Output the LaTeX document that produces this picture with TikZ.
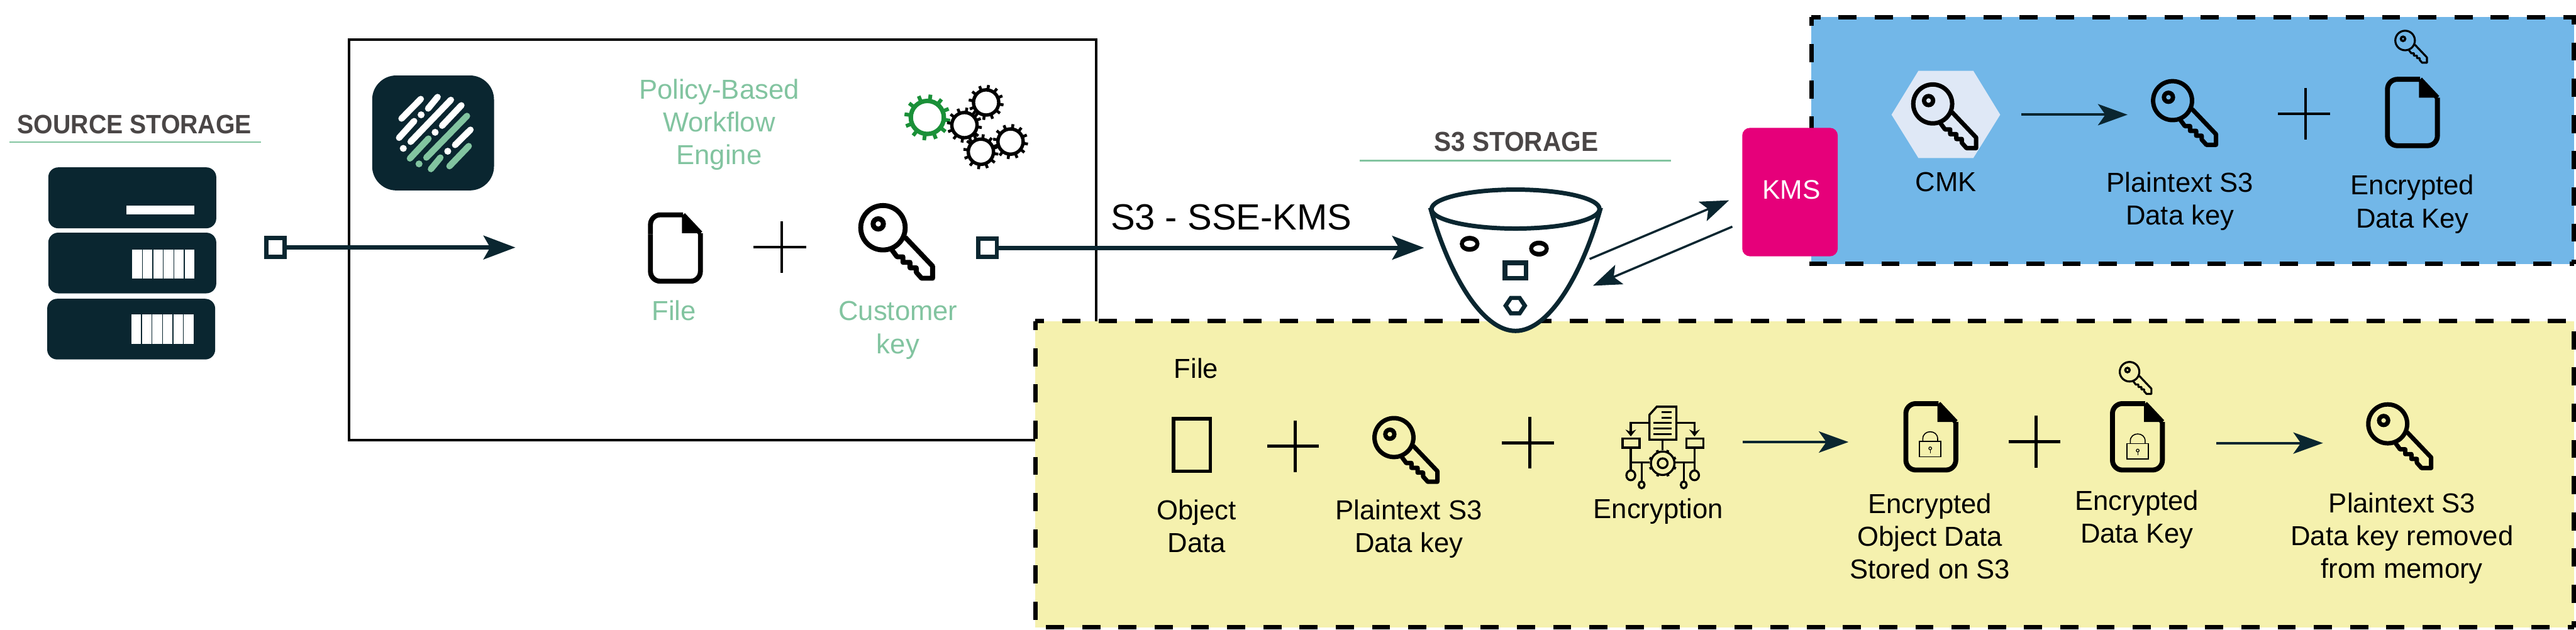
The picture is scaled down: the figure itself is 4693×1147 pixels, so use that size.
\documentclass[tikz,border=0pt]{standalone}
\usepackage{fontspec}
\setmainfont{Liberation Sans}
\newfontfamily\headfont[FakeStretch=0.93]{Liberation Sans}
\usetikzlibrary{arrows.meta}
\definecolor{ink}{HTML}{0A2630}
\definecolor{mint}{HTML}{82C4A0}
\definecolor{headgrey}{HTML}{4A4646}
\definecolor{bluepanel}{HTML}{72B7E8}
\definecolor{yellowpanel}{HTML}{F5F1AE}
\definecolor{kmspink}{HTML}{E6007A}
\definecolor{hexpale}{HTML}{DFE8F6}
\definecolor{geargreen}{HTML}{1A9038}
\tikzset{
  x=.25pt,y=-.25pt,
  lbl/.style={inner sep=0,outer sep=0,align=center,anchor=base,font=\fontsize{12.5}{15}\selectfont},
  greenlbl/.style={lbl,text=mint},
  head/.style={inner sep=0,anchor=base,text=headgrey,font=\headfont\bfseries\fontsize{12.5}{15}\selectfont},
  rule/.style={mint,line width=.8pt},
  port/.style={draw=ink,fill=white,line width=2pt,minimum size=8.5pt,inner sep=0,outer sep=0},
  flow/.style={draw=ink,line width=2pt,-{Stealth[length=14.5pt,width=10.75pt,inset=3pt,fill=ink]}},
  flowthin/.style={draw=ink,line width=1.1pt,-{Stealth[length=13.5pt,width=9.7pt,inset=3.4pt,fill=ink]}},
  flowdiag/.style={draw=ink,line width=1pt,-{Stealth[length=13pt,width=9.5pt,inset=2.75pt,fill=ink]}},
  dashbox/.style={draw=black,line width=2pt,dash pattern=on 8.25pt off 8.25pt,dash phase=4.125pt},
  plusmark/.style={draw=black,line width=1.25pt},
  server/.style={fill=ink,rounded corners=4.5pt},
  pics/keyicon/.style={code={
    \draw[line width=#1,line join=round] (44.6,45) circle[radius=40.5];
    \draw[line width=#1,line join=round]
      (84.8,62.2) -- (135,115) -- (135,137) -- (115,137) -- (105.2,126) -- (105.2,118)
      -- (93.8,118) -- (93.8,108) -- (81,108) -- (81,98) -- (70.2,98) -- (60.6,85);
    \fill[even odd rule] (36,38) circle[radius=14] (36,38) circle[radius=5];
  }},
  pics/fileicon/.style={code={
    \draw[line width=2.25pt,line join=round,rounded corners=4.5pt]
      (4.5,40) -- (4.5,4.5) -- (64,4.5);
    \draw[line width=2.25pt,line join=round]
      (64,4.5) -- (95.5,38);
    \draw[line width=2.25pt,line join=round,rounded corners=4.5pt]
      (95.5,38) -- (95.5,125.5) -- (4.5,125.5) -- (4.5,40);
    \fill[line join=round] (62,4.5) -- (97,38) -- (62,38) -- cycle;
  }},
  pics/lockicon/.style={code={
    \draw[line width=.45pt] (0,0) rectangle (39,28);
    \draw[line width=.45pt] (6,0) -- (6,-5) .. controls (6,-22) and (33,-22) .. (33,-5) -- (33,0);
    \draw[line width=.35pt] (19.5,12.5) circle[radius=2.6];
    \draw[line width=.35pt] (19.5,15) -- (19.5,21.5);
  }},
  pics/gearicon/.style={code={
    \draw[line width=#1*1.55pt] (0,0) circle[radius=23];
    \foreach \a in {0,30,...,330}{
      \draw[line width=#1*1.3pt] (\a+8:24) -- (\a+8:32);
    }
  }},
}
\begin{document}
\begin{tikzpicture}
\useasboundingbox (0,0) rectangle (4693,1147);
\fill[white] (0,0) rectangle (4693,1147);

% workflow frame
\draw[black,line width=1.15pt] (636,72) rectangle (1997,802);

% panels
\coordinate (bnw) at (3300,31); \coordinate (bne) at (4689,31);
\coordinate (bsw) at (3300,481); \coordinate (bse) at (4689,481);
\fill[bluepanel] (bnw) rectangle (bse);
\draw[dashbox] (bnw) -- (bne) -- (bse);
\draw[dashbox] (bnw) -- (bsw) -- (bse);
\coordinate (ynw) at (1886,585); \coordinate (yne) at (4689,585);
\coordinate (ysw) at (1886,1143); \coordinate (yse) at (4689,1143);
\fill[yellowpanel] (ynw) rectangle (yse);
\draw[dashbox] (ynw) -- (yne) -- (yse);
\draw[dashbox] (ynw) -- (ysw) -- (yse);

% source storage
\node[head,font=\headfont\bfseries\fontsize{12.1}{15}\selectfont] (srchead) at (245,243) {SOURCE STORAGE};
\draw[rule] (17,259) -- (476,259);
\fill[server] (88,305) rectangle (394,416);
\fill[server] (88,424) rectangle (394,534.5);
\fill[server] (86,544.5) rectangle (392,655);
\fill[white] (230,374.5) rectangle (354,391);
\foreach \i in {0,...,5}{
  \fill[white] (241+\i*19.1,454.5) rectangle (258.5+\i*19.1,508);
  \fill[white] (239.5+\i*19.1,573) rectangle (257+\i*19.1,627);
}

% logo
\fill[ink,rounded corners=11pt] (678,137.5) rectangle (900,347);
\begin{scope}[x=.15944pt,y=-.13075pt,line width=2.9pt,line cap=round]
  \draw[white] (1202,345)--(1147,413) (1250,338)--(1223,378) (1288,348)--(1173,494)
    (1318,367)--(1263,438) (1183,422)--(1140,480) (1344,452)--(1300,505);
  \fill[white] (1203,400) ellipse[x radius=10,y radius=12]
    (1243,461) ellipse[x radius=10,y radius=12]
    (1152,517) ellipse[x radius=10,y radius=12]
    (1279,527) ellipse[x radius=10,y radius=12];
  \draw[mint] (1224,483)--(1171,552) (1334,404)--(1218,549)
    (1258,549)--(1231,589) (1339,509)--(1284,579);
  \fill[mint] (1197,571) ellipse[x radius=10,y radius=12];
\end{scope}

% workflow engine
\node[greenlbl] (engine) at (1310,300) {Policy-Based\\Workflow\\Engine};
\pic[scale=1.31,geargreen] at (1689.4,214) {gearicon=1.31};
\pic at (1796.5,186.7) {gearicon=1};
\pic at (1757,228) {gearicon=1};
\pic at (1787,276.5) {gearicon=1};
\pic at (1841,258) {gearicon=1};
\pic at (1180.5,387) {fileicon};
\draw[plusmark] (1373,450.5) -- (1469,450.5) (1424,403) -- (1424,497.5);
\pic at (1564,370) {keyicon=2.25pt};
\node[greenlbl] (filelbl) at (1228,584) {File};
\node[greenlbl] (custlbl) at (1636,644) {Customer\\key};

% connectors left
\node[port] (srcport) at (502,451) {};
\coordinate (srcend) at (939,451);
\draw[flow] (srcport) -- (srcend);
\node[port] (custport) at (1799,451.5) {};
\coordinate (bucketin) at (2594.5,451.5);
\draw[flow] (custport) -- (bucketin);
\node[lbl,font=\fontsize{16.6}{20}\selectfont] (ssekms) at (2243,419) {S3 - SSE-KMS};

% S3 storage
\node[head] (s3head) at (2762,276) {S3 STORAGE};
\draw[rule] (2477,293) -- (3044,293);
\draw[ink,fill=white,line width=2pt]
  (2607,383) .. controls (2640,500) and (2700,603) .. (2761,603)
  .. controls (2822,603) and (2882,500) .. (2915,383) -- cycle;
\draw[ink,fill=white,line width=2pt] (2761,381) ellipse[x radius=153,y radius=35.5];
\fill[black,even odd rule] (2677.4,444.3) ellipse[x radius=18,y radius=14.5] (2677.4,444.3) ellipse[x radius=10.5,y radius=6];
\fill[black,even odd rule] (2803.7,453) ellipse[x radius=18,y radius=14.5] (2803.7,453) ellipse[x radius=10.5,y radius=6];
\draw[ink,line width=2.1pt] (2741.6,479) rectangle (2779.8,506.7);
\draw[ink,line width=1.9pt,line join=miter] (2743,557) -- (2752.5,543) -- (2768.5,543) -- (2778,557) -- (2768.5,571) -- (2752.5,571) -- cycle;

% KMS
\node[fill=kmspink,rounded corners=3.5pt,minimum width=43.5pt,minimum height=58.5pt,inner sep=0] (kms) at (3261,350) {};
\node[lbl,text=white,font=\fontsize{12.2}{15}\selectfont] (kmslbl) at (3263.5,363) {KMS};
\coordinate (toKmsA) at (2896,472); \coordinate (toKmsB) at (3150,365);
\draw[flowdiag] (toKmsA) -- (toKmsB);
\coordinate (fromKmsA) at (3156,413); \coordinate (fromKmsB) at (2902,520.7);
\draw[flowdiag] (fromKmsA) -- (fromKmsB);

% blue panel
\fill[hexpale] (3446,209) -- (3495,129) -- (3595,129) -- (3644,209) -- (3595,288) -- (3495,288) -- cycle;
\pic[scale=.875] at (3482,150) {keyicon=2pt};
\coordinate (cmkA) at (3682.5,209); \coordinate (cmkB) at (3876,209);
\draw[flowthin] (cmkA) -- (cmkB);
\pic[scale=.875] at (3919,144) {keyicon=2pt};
\draw[plusmark] (4150,207.7) -- (4245,207.7) (4200.6,160) -- (4200.6,254);
\pic at (4345,140) {fileicon};
\pic[scale=.44] at (4362,54) {keyicon=.9pt};
\node[lbl] (cmklbl) at (3545.4,349) {CMK};
\node[lbl] (plainlbl) at (3971.5,410) {Plaintext S3\\Data key};
\node[lbl] (enclbl) at (4395,415) {Encrypted\\Data Key};

% yellow panel
\node[lbl] (yfile) at (2179,689.6) {File};
\draw[black,line width=1.5pt] (2138,763) rectangle (2204.7,859);
\draw[plusmark] (2308.6,813) -- (2403,813) (2359.5,766) -- (2359.5,861);
\pic[scale=.875] at (2500.5,758) {keyicon=2pt};
\draw[plusmark] (2736,807) -- (2831,807) (2787,759.5) -- (2787,854);

% encryption icon
\begin{scope}[shift={(1880,570)},x=.2232pt,y=-.092pt,line width=.95pt,black]
  \draw (1275,465) -- (1315,465) -- (1315,628) -- (1260,628) -- (1260,505) -- cycle;
  \draw (1285,492)--(1305,492) (1285,520)--(1305,520) (1268,545)--(1305,545) (1268,573)--(1305,573) (1268,600)--(1305,600);
  \draw (1260,545) -- (1222,545) -- (1222,590) (1315,545) -- (1352,545) -- (1352,590);
  \fill (1211,578) -- (1222,590) -- (1233,578) -- (1222,612) -- cycle;
  \fill (1341,578) -- (1352,590) -- (1363,578) -- (1352,612) -- cycle;
  \draw (1205,622) rectangle (1240,668) (1335,622) rectangle (1370,668);
  \draw (1287,628) -- (1287,680);
  \foreach \a in {0,45,...,315}{
    \draw[line width=1.2pt] ({1287+25*cos(\a+22)},{745+58*sin(\a+22)}) -- ({1287+29*cos(\a+22)},{745+70*sin(\a+22)});
  }
  \draw (1287,745) ellipse[x radius=24,y radius=58];
  \draw (1287,745) ellipse[x radius=10,y radius=24];
  \draw (1222,668) -- (1222,781) (1352,668) -- (1352,781);
  \draw (1222,742) -- (1261,742) (1313,742) -- (1352,742);
  \draw (1222,805) ellipse[x radius=9,y radius=24] (1352,805) ellipse[x radius=9,y radius=24];
  \draw (1244,742) -- (1244,835) (1330,742) -- (1330,835);
  \draw (1244,852) ellipse[x radius=6,y radius=17] (1330,852) ellipse[x radius=6,y radius=17];
\end{scope}

\coordinate (encA) at (3174.6,805.5); \coordinate (encB) at (3367.6,805.5);
\draw[flowthin] (encA) -- (encB);
\pic at (3467.6,731) {fileicon};
\pic at (3497,804.5) {lockicon};
\draw[plusmark] (3659,805) -- (3754,805) (3709.5,757) -- (3709.5,852);
\pic at (3844,731) {fileicon};
\pic at (3875,808.5) {lockicon};
\pic[scale=.44] at (3860,657.6) {keyicon=.9pt};
\coordinate (remA) at (4038,807.4); \coordinate (remB) at (4232,807.4);
\draw[flowthin] (remA) -- (remB);
\pic[scale=.875] at (4311,733) {keyicon=2pt};

\node[lbl] (objlbl) at (2180,1007) {Object\\Data};
\node[lbl] (ptlbl) at (2566.6,1007) {Plaintext S3\\Data key};
\node[lbl] (encrlbl) at (3021,944.7) {Encryption};
\node[lbl] (eodlbl) at (3516,1055) {Encrypted\\Object Data\\Stored on S3};
\node[lbl] (edklbl) at (3893,989.6) {Encrypted\\Data Key};
\node[lbl] (remlbl) at (4376,1054) {Plaintext S3\\Data key removed\\from memory};
\end{tikzpicture}
\end{document}
